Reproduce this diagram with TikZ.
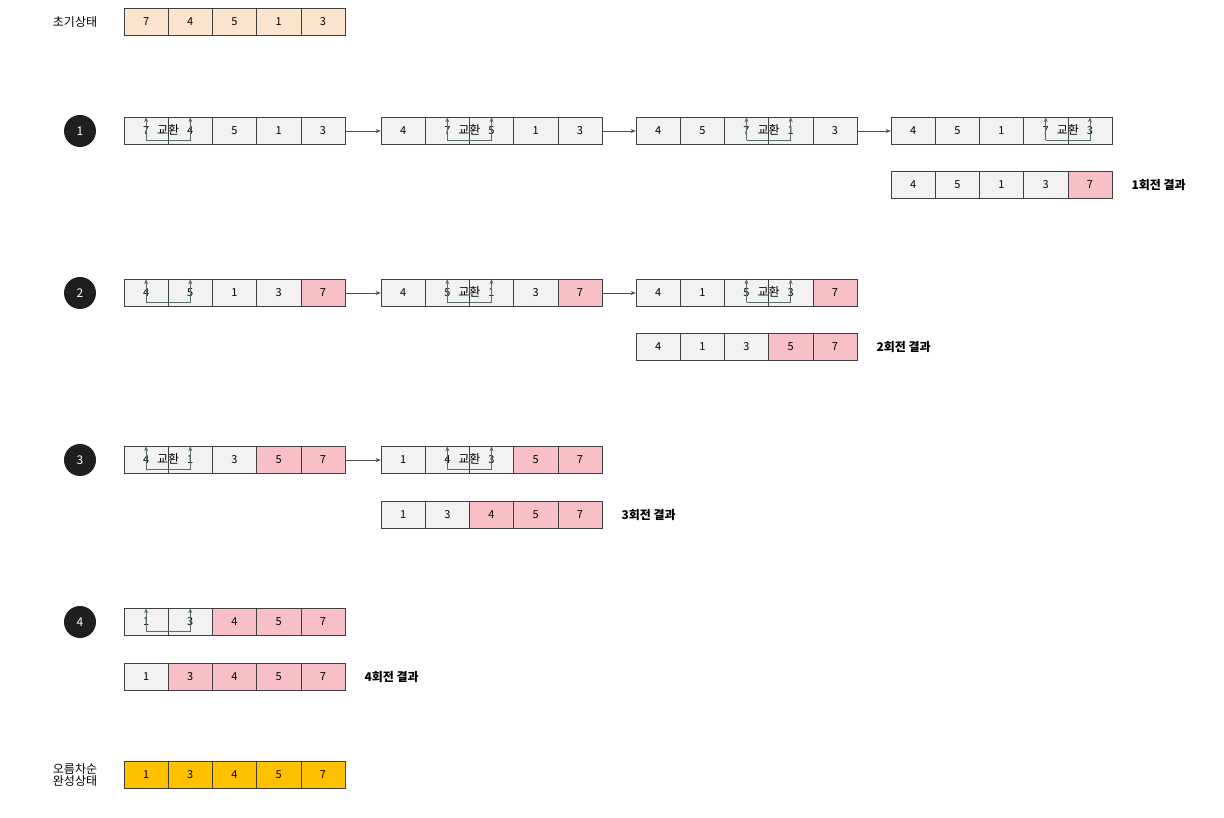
\documentclass[tikz,border=0pt]{standalone}
\usepackage{fontspec}
\setmainfont{Noto Sans CJK KR}
\usetikzlibrary{arrows.meta}
\definecolor{cg}{HTML}{F2F2F2}
\definecolor{cp}{HTML}{F8BFC6}
\definecolor{ci}{HTML}{FCE4CF}
\definecolor{cf}{HTML}{FFC000}
\definecolor{br}{HTML}{5A6B6B}
\tikzset{
 cell/.style={draw=black!75,line width=0.6pt,minimum width=44.2pt,minimum height=27pt,inner sep=0pt,font=\fontsize{11}{11}\selectfont},
 mark/.style={},
 num/.style={circle,fill=black!88,text=white,minimum size=32pt,inner sep=0pt,font=\fontsize{12}{12}\selectfont},
 swp/.style={draw=br,line width=0.8pt,-{Stealth[length=5pt,width=4pt]}},
 flow/.style={draw=black!70,line width=0.5pt,-{Stealth[length=5pt,width=4pt]}},
 res/.style={font=\bfseries\fontsize{12}{12}\selectfont,anchor=west},
 lbl/.style={font=\fontsize{12}{14}\selectfont,align=center}
}
% \arr{name}{x}{y}{v/c,...}
\newcommand{\arr}[4]{%
 \foreach \v/\c [count=\i] in {#4} {
  \node[cell,fill=\c] (#1-\i) at ({#2+22.1+44.2*(\i-1)},#3) {\v};
 }}
\newcommand{\swap}[4]{% name, i, j, label
 \draw[swp] (#1-#2.north) ++(0,23) coordinate (#1s#2) -- (#1-#2.north);
 \draw[swp] (#1s#2) -| (#1-#3.north);
 \path (#1s#2) -- (#1s#2 -| #1-#3.north) node[midway,above=1pt,font=\fontsize{12}{12}\selectfont] (#1l#2) {#4};
}
\begin{document}
\begin{tikzpicture}[x=1pt,y=-1pt]
\useasboundingbox (0,0) rectangle (1224,818);
\node[lbl] (t0) at (75,22) {초기상태};
\arr{a0}{124}{22}{7/ci,4/ci,5/ci,1/ci,3/ci}
% row 1
\node[num] (n1) at (80,131) {1};
\arr{a11}{124}{131}{7/cg,4/cg,5/cg,1/cg,3/cg}
\arr{a12}{381}{131}{4/cg,7/cg,5/cg,1/cg,3/cg}
\arr{a13}{636}{131}{4/cg,5/cg,7/cg,1/cg,3/cg}
\arr{a14}{891}{131}{4/cg,5/cg,1/cg,7/cg,3/cg}
\arr{r1}{891}{185}{4/cg,5/cg,1/cg,3/cg,7/cp}
\node[res] (l1) at (1128,185) {1회전 결과};
\swap{a11}{1}{2}{교환}\swap{a12}{2}{3}{교환}\swap{a13}{3}{4}{교환}\swap{a14}{4}{5}{교환}
\draw[flow] (a11-5.east) -- (a12-1.west);
\draw[flow] (a12-5.east) -- (a13-1.west);
\draw[flow] (a13-5.east) -- (a14-1.west);
% row 2
\node[num] (n2) at (80,293) {2};
\arr{a21}{124}{293}{4/cg,5/cg,1/cg,3/cg,7/cp}
\arr{a22}{381}{293}{4/cg,5/cg,1/cg,3/cg,7/cp}
\arr{a23}{636}{293}{4/cg,1/cg,5/cg,3/cg,7/cp}
\arr{r2}{636}{347}{4/cg,1/cg,3/cg,5/cp,7/cp}
\node[res] (l2) at (873,347) {2회전 결과};
\swap{a21}{1}{2}{}\swap{a22}{2}{3}{교환}\swap{a23}{3}{4}{교환}
\draw[flow] (a21-5.east) -- (a22-1.west);
\draw[flow] (a22-5.east) -- (a23-1.west);
% row 3
\node[num] (n3) at (80,460) {3};
\arr{a31}{124}{460}{4/cg,1/cg,3/cg,5/cp,7/cp}
\arr{a32}{381}{460}{1/cg,4/cg,3/cg,5/cp,7/cp}
\arr{r3}{381}{515}{1/cg,3/cg,4/cp,5/cp,7/cp}
\node[res] (l3) at (618,515) {3회전 결과};
\swap{a31}{1}{2}{교환}\swap{a32}{2}{3}{교환}
\draw[flow] (a31-5.east) -- (a32-1.west);
% row 4
\node[num] (n4) at (80,622) {4};
\arr{a41}{124}{622}{1/cg,3/cg,4/cp,5/cp,7/cp}
\arr{r4}{124}{677}{1/cg,3/cp,4/cp,5/cp,7/cp}
\node[res] (l4) at (361,677) {4회전 결과};
\swap{a41}{1}{2}{}
% final
\node[lbl] (tf) at (75,775) {오름차순\\[-2pt]완성상태};
\arr{af}{124}{775}{1/cf,3/cf,4/cf,5/cf,7/cf}
\end{tikzpicture}
\end{document}
